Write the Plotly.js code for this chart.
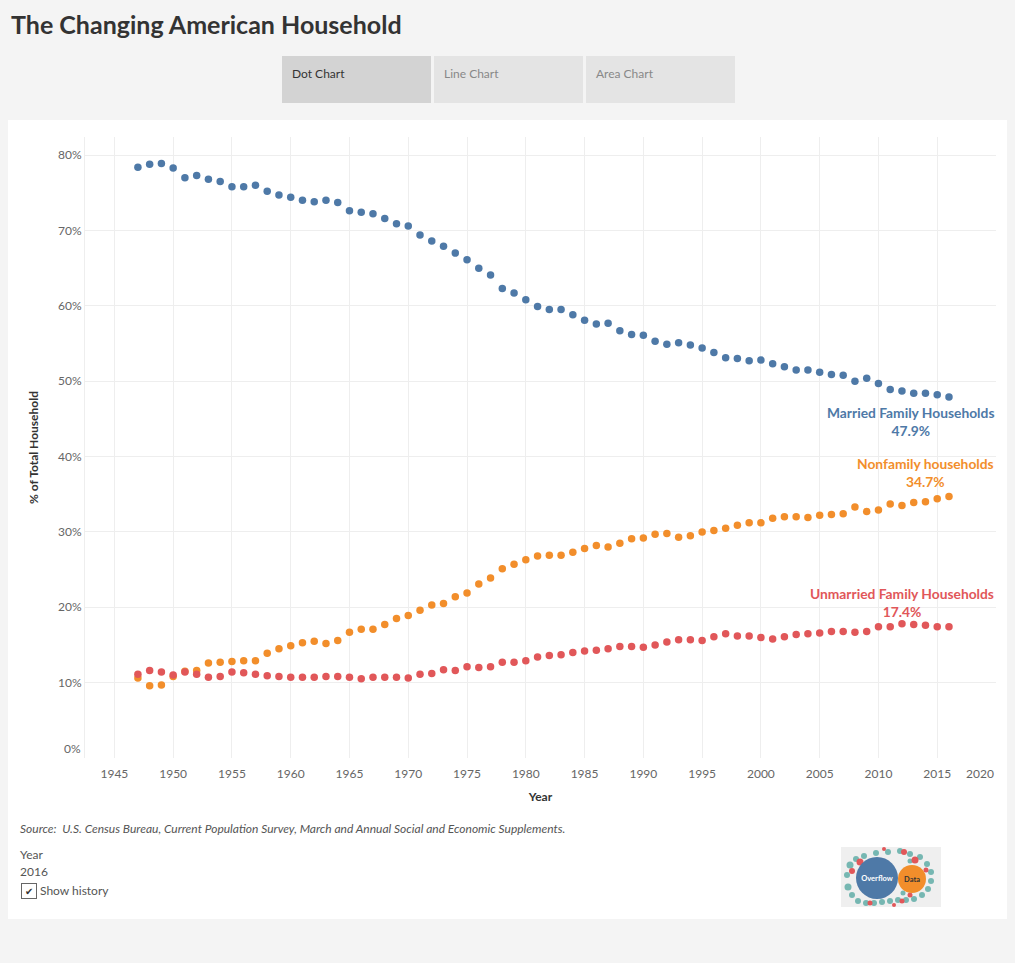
<!DOCTYPE html>
<html>
<head>
<meta charset="utf-8">
<script src="https://cdn.plot.ly/plotly-3.0.1.min.js"></script>
<style>
  html, body { margin:0; padding:0; background:#f4f4f4; width:1015px; height:963px; overflow:hidden; font-family: Lato, "Open Sans", sans-serif; }
  #title { position:absolute; left:11px; top:9px; font-size:25px; font-weight:bold; color:#333; letter-spacing:0px; }
  .btn { position:absolute; top:56px; width:149px; height:47px; background:#e4e4e4; font-size:12px; color:#888; box-sizing:border-box; padding:10px 0 0 10px; }
  #panel { position:absolute; left:8px; top:120px; width:999px; height:799px; background:#fff; }
  #chart { position:absolute; left:8px; top:120px; width:999px; height:799px; }
  .ft { position:absolute; color:#555; font-size:12px; z-index:5; }
  #src { left:20px; top:821px; font-style:italic; font-size:12px; color:#555; }
  #chk { position:absolute; left:21px; top:883px; width:14px; height:14px; border:1px solid #666; background:#fff; z-index:5; font-size:10px; line-height:14px; text-align:center; color:#333; }
  #logo { position:absolute; left:840px; top:845px; z-index:5; }
</style>
</head>
<body>
<div id="title">The Changing American Household</div>
<div class="btn" style="left:282px; background:#d3d3d3; color:#333;">Dot Chart</div>
<div class="btn" style="left:434px;">Line Chart</div>
<div class="btn" style="left:586px;">Area Chart</div>
<div id="panel"></div>
<div id="chart"></div>
<div class="ft" id="src">Source:&nbsp; U.S. Census Bureau, Current Population Survey, March and Annual Social and Economic Supplements.</div>
<div class="ft" style="left:20px; top:847px;">Year</div>
<div class="ft" style="left:20px; top:864px;">2016</div>
<div id="chk">&#10004;</div>
<div class="ft" style="left:40px; top:883px;">Show history</div>
<svg id="logo" width="102" height="64" viewBox="0 0 102 64">
  <rect x="1" y="2" width="100" height="60" fill="#efefef"/>
  <g fill="#76b7b2">
    <circle cx="10" cy="20" r="3.5"/><circle cx="7" cy="30" r="3"/><circle cx="8" cy="42" r="3.5"/><circle cx="12" cy="50" r="3"/>
    <circle cx="18" cy="56" r="3"/><circle cx="26" cy="58" r="3"/><circle cx="34" cy="58" r="3"/><circle cx="42" cy="57" r="3"/>
    <circle cx="50" cy="56" r="3"/><circle cx="58" cy="55" r="3"/><circle cx="66" cy="55" r="3"/><circle cx="74" cy="54" r="3"/>
    <circle cx="82" cy="50" r="3"/><circle cx="88" cy="44" r="3"/><circle cx="91" cy="36" r="3"/><circle cx="91" cy="27" r="3"/>
    <circle cx="87" cy="19" r="3"/><circle cx="80" cy="12" r="3"/><circle cx="70" cy="9" r="3"/><circle cx="60" cy="6" r="3"/>
    <circle cx="48" cy="7" r="3"/><circle cx="36" cy="8" r="3"/><circle cx="24" cy="11" r="3"/><circle cx="16" cy="14" r="3"/>
    <circle cx="63" cy="48" r="2.5"/><circle cx="70" cy="16" r="2.5"/>
  </g>
  <g fill="#e15759">
    <circle cx="20" cy="17" r="3.5"/><circle cx="12" cy="26" r="3"/><circle cx="30" cy="58" r="2.5"/><circle cx="64" cy="7" r="3"/>
    <circle cx="75" cy="15" r="3.5"/><circle cx="62" cy="56" r="2.5"/><circle cx="70" cy="50" r="2.5"/><circle cx="86" cy="25" r="2.5"/>
    <circle cx="44" cy="4" r="2"/><circle cx="54" cy="60" r="2"/>
  </g>
  <circle cx="37" cy="33" r="21" fill="#4e79a7"/>
  <circle cx="72" cy="34" r="14" fill="#f28e2b"/>
  <text x="37" y="36" font-size="7.5" font-weight="bold" fill="#fff" text-anchor="middle" font-family="Lato, sans-serif">Overflow</text>
  <text x="72" y="37" font-size="7.5" font-weight="bold" fill="#333" text-anchor="middle" font-family="Lato, sans-serif">Data</text>
</svg>
<script>
const years = [1947,1948,1949,1950,1951,1952,1953,1954,1955,1956,
  1957,1958,1959,1960,1961,1962,1963,1964,1965,1966,
  1967,1968,1969,1970,1971,1972,1973,1974,1975,1976,
  1977,1978,1979,1980,1981,1982,1983,1984,1985,1986,
  1987,1988,1989,1990,1991,1992,1993,1994,1995,1996,
  1997,1998,1999,2000,2001,2002,2003,2004,2005,2006,
  2007,2008,2009,2010,2011,2012,2013,2014,2015,2016];

const married = [78.4,78.8,78.9,78.3,77.0,77.3,76.8,76.5,75.8,75.8,
  76.0,75.2,74.7,74.4,74.0,73.8,74.0,73.7,72.6,72.4,
  72.2,71.6,70.9,70.6,69.4,68.6,67.9,67.0,66.1,65.0,
  64.1,62.3,61.7,60.8,59.9,59.5,59.5,58.8,58.1,57.6,
  57.7,56.7,56.2,56.1,55.3,54.9,55.1,54.8,54.4,53.8,
  53.1,53.0,52.7,52.8,52.3,51.9,51.5,51.5,51.2,50.9,
  50.8,50.0,50.4,49.7,48.9,48.7,48.4,48.4,48.2,47.9];

const nonfamily = [10.6,9.6,9.7,10.8,11.5,11.6,12.6,12.7,12.8,12.9,
  12.9,13.9,14.5,14.9,15.3,15.5,15.2,15.6,16.7,17.1,
  17.1,17.7,18.5,18.9,19.6,20.3,20.5,21.4,21.9,23.1,
  23.9,25.1,25.7,26.3,26.8,26.9,26.9,27.3,27.8,28.2,
  28.0,28.5,29.1,29.2,29.7,29.8,29.3,29.5,30.0,30.2,
  30.5,30.9,31.2,31.2,31.8,32.0,32.0,31.9,32.2,32.3,
  32.4,33.3,32.7,32.9,33.7,33.5,33.9,34.0,34.4,34.7];

const unmarried = [11.1,11.6,11.4,11.0,11.4,11.1,10.7,10.8,11.4,11.3,
  11.1,10.9,10.8,10.7,10.7,10.7,10.8,10.8,10.7,10.5,
  10.7,10.7,10.7,10.6,11.1,11.2,11.7,11.6,12.1,12.0,
  12.1,12.7,12.7,12.9,13.4,13.6,13.7,14.0,14.2,14.3,
  14.5,14.8,14.8,14.7,15.0,15.4,15.7,15.7,15.6,16.1,
  16.5,16.2,16.2,16.0,15.8,16.1,16.4,16.5,16.6,16.8,
  16.8,16.7,16.8,17.4,17.4,17.8,17.7,17.6,17.4,17.4];

const seriesNames = ["Married Family Households", "Nonfamily households", "Unmarried Family Households"];
const seriesColors = ["#4e79a7", "#f28e2b", "#e15759"];
const xTickVals = [1945,1950,1955,1960,1965,1970,1975,1980,1985,1990,1995,2000,2005,2010,2015,2020];
const yTickVals = [0,10,20,30,40,50,60,70,80];

const seriesData = [married, nonfamily, unmarried];
const traces = seriesData.map((vals, i) => ({
  type: 'scatter', mode: 'markers', x: years, y: vals, name: seriesNames[i],
  marker: { color: seriesColors[i], size: 7.5 }, hoverinfo: 'skip'
}));

const fnt = 'Lato, "Open Sans", sans-serif';
const annotations = [];
// label positions: married below its last point, others above
const placement = [{ya:'top', ys:-5}, {ya:'bottom', ys:4}, {ya:'bottom', ys:5}];
seriesData.forEach((vals, i) => {
  const v = vals[vals.length - 1];
  annotations.push({
    x: xTickVals[xTickVals.length - 1], y: v, xref: 'x', yref: 'y',
    text: '<b>' + seriesNames[i] + '</b><br><b>' + v.toFixed(1) + '%</b>',
    showarrow: false, xanchor: 'right', yanchor: placement[i].ya, yshift: placement[i].ys, xshift: 0,
    align: 'center', font: { family: fnt, size: 13.8, color: seriesColors[i] }
  });
});
// edge tick labels (shifted inside the plot like the original)
annotations.push({ x: xTickVals[xTickVals.length - 1], y: 0, xref: 'x', yref: 'paper', text: String(xTickVals[xTickVals.length - 1]),
  showarrow: false, xanchor: 'right', yanchor: 'top', yshift: -6, font: { family: fnt, size: 12, color: '#666' } });
annotations.push({ x: 0, y: yTickVals[0], xref: 'paper', yref: 'y', text: yTickVals[0] + '%',
  showarrow: false, xanchor: 'right', yanchor: 'bottom', xshift: -2, yshift: 0, font: { family: fnt, size: 12, color: '#666' } });

const layout = {
  width: 999, height: 799,
  margin: { l: 77, r: 11, t: 17, b: 161 },
  paper_bgcolor: '#ffffff', plot_bgcolor: '#ffffff',
  showlegend: false,
  font: { family: fnt, size: 12, color: '#666' },
  xaxis: {
    range: [1942.5, 2020], tickvals: xTickVals,
    ticktext: xTickVals.map((v, i) => i === xTickVals.length - 1 ? '' : String(v)),
    showgrid: true, gridcolor: '#eeeeee', gridwidth: 1, zeroline: false,
    showline: false, ticks: '', ticklabelstandoff: 7, tickfont: { family: fnt, size: 12, color: '#666' },
    title: { text: '<b>Year</b>', font: { family: fnt, size: 12, color: '#333' }, standoff: 12 }
  },
  yaxis: {
    range: [0, 82.4], tickvals: yTickVals,
    ticktext: yTickVals.map((v, i) => i === 0 ? '' : v + '%'),
    showgrid: true, gridcolor: '#eeeeee', gridwidth: 1, zeroline: false,
    showline: true, linecolor: '#eeeeee', linewidth: 1, ticks: '',
    tickfont: { family: fnt, size: 12, color: '#666' },
    title: { text: '<b>% of Total Household</b>', font: { family: fnt, size: 12, color: '#333' }, standoff: 16 }
  },
  annotations: annotations
};

Plotly.newPlot('chart', traces, layout, { displayModeBar: false, staticPlot: true });
</script>
</body>
</html>
